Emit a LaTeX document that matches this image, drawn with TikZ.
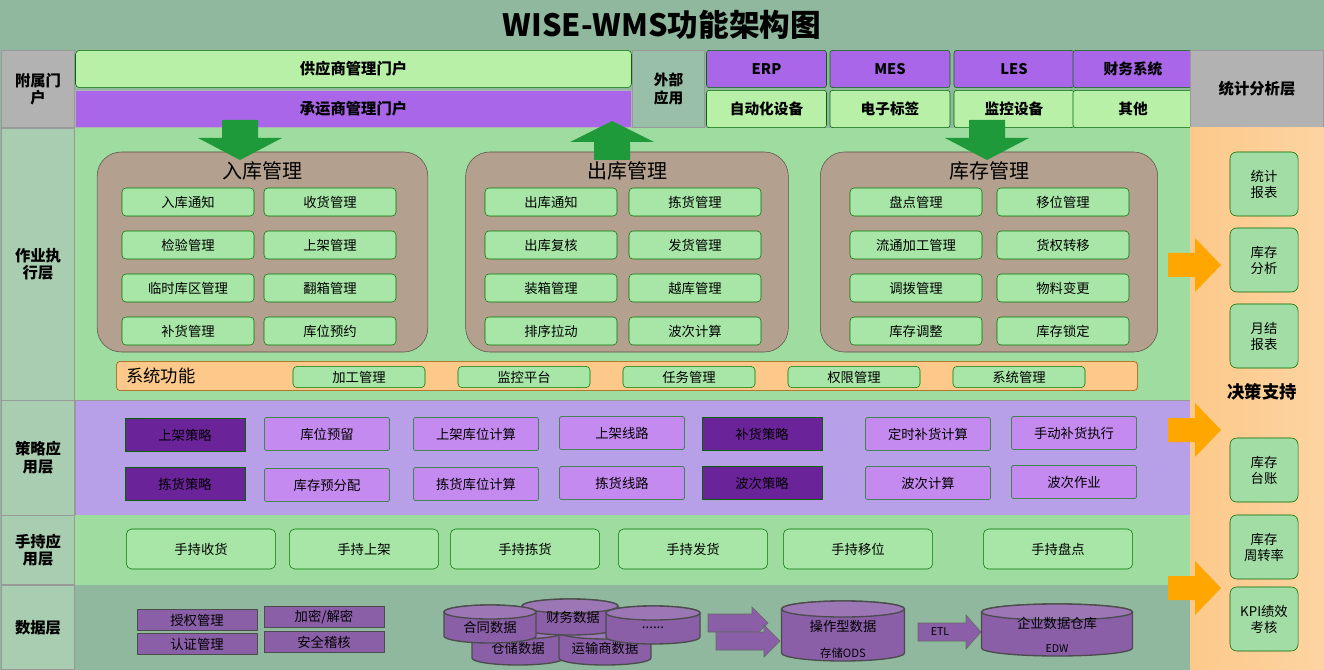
\documentclass[tikz,border=0pt]{standalone}
\usepackage{fontspec}
\setmainfont{Noto Sans CJK SC}
\definecolor{bgg}{HTML}{8FB89E}
\definecolor{lab}{HTML}{A9CDB0}
\definecolor{grayb}{HTML}{B2B2B2}
\definecolor{lgreen}{HTML}{B8F0A8}
\definecolor{purp}{HTML}{A966E8}
\definecolor{exec}{HTML}{9FDCA0}
\definecolor{brown}{HTML}{B3A08E}
\definecolor{item}{HTML}{A8E6A8}
\definecolor{orng}{HTML}{FCC98A}
\definecolor{strat}{HTML}{B8A0E8}
\definecolor{dpur}{HTML}{6A2398}
\definecolor{lpur}{HTML}{C48AF0}
\definecolor{dgreen}{HTML}{1F9A3A}
\definecolor{datap}{HTML}{8A5FA8}
\newcommand\dbcyl[5]{% cx cy w h ry
 \filldraw[fill=datap, draw=black!70, line width=1pt] ({#1-#3/2},{#2-#4/2+#5}) -- ({#1-#3/2},{#2+#4/2-#5}) arc[start angle=180,end angle=0,x radius={#3/2},y radius=#5] -- ({#1+#3/2},{#2-#4/2+#5}) arc[start angle=0,end angle=-180,x radius={#3/2},y radius=#5] -- cycle;
 \filldraw[fill=datap!85!white, draw=black!70, line width=1pt] (#1,{#2-#4/2+#5}) ellipse[x radius={#3/2},y radius=#5];}
\tikzset{
 every node/.style={font=\fontsize{10}{12}\selectfont, align=center, inner sep=0pt},
 layerlab/.style={draw=black!40, fill=lab, font=\fontsize{11.5}{13}\selectfont\bfseries},
 itm/.style={draw=green!45!black, fill=item, rounded corners=3pt, minimum width=99pt, minimum height=21pt},
 sitm/.style={draw=green!45!black, fill=item, rounded corners=3pt, minimum width=99pt, minimum height=16pt},
 mod/.style={draw=brown!50!black, fill=brown, rounded corners=18pt},
 dstrat/.style={draw=green!40!black, fill=dpur, minimum width=90pt, minimum height=25pt},
 lstrat/.style={draw=green!50!black, fill=lpur, rounded corners=2pt, minimum width=94pt, minimum height=25pt},
 hand/.style={draw=green!45!black, fill=item, rounded corners=4pt, minimum width=112pt, minimum height=30pt},
 rbox/.style={draw=green!40!black, fill=item!80!bgg, rounded corners=5pt, minimum width=51pt, minimum height=48pt},
 sec/.style={draw=black!70, fill=datap, minimum width=90pt, minimum height=16pt},
 garrow/.style={fill=dgreen},
 oarrow/.style={fill=orange!70!yellow},
 parrow/.style={fill=datap, draw=black!60}
}
\begin{document}
\begin{tikzpicture}[x=0.75pt,y=-0.75pt]
\useasboundingbox (0,0) rectangle (1324,670);
\fill[bgg] (0,0) rectangle (1324,670);
\node[font=\fontsize{23}{26}\selectfont\bfseries] (title) at (662,25) {WISE-WMS功能架构图};
% left labels
\node[layerlab, fill=grayb, minimum width=55pt, minimum height=58pt] (l1) at (38,89) {附属门\\户};
\node[layerlab, minimum width=55pt, minimum height=204pt] (l2) at (38,264) {作业执\\行层};
\node[layerlab, minimum width=55pt, minimum height=86pt] (l3) at (38,457.5) {策略应\\用层};
\node[layerlab, minimum width=55pt, minimum height=52pt] (l4) at (38,550) {手持应\\用层};
\node[layerlab, minimum width=55pt, minimum height=63pt] (l5) at (38,627.5) {数据层};
% portals
\node[draw=green!40!black, fill=lgreen, rounded corners=3pt, minimum width=417pt, minimum height=28pt, font=\fontsize{11.5}{13}\selectfont\bfseries] (p1) at (353.5,69) {供应商管理门户};
\node[draw=black!30, fill=purp, minimum width=417pt, minimum height=28pt, font=\fontsize{11.5}{13}\selectfont\bfseries] (p2) at (353.5,109) {承运商管理门户};
\node[layerlab, fill=bgg!90!white, minimum width=54pt, minimum height=58pt, font=\fontsize{11}{13}\selectfont\bfseries] (ext) at (668.5,89) {外部\\应用};
\foreach \n/\x/\t in {e1/766.5/ERP,e2/890/MES,e3/1014/LES,e4/1133/财务系统}
  \node[draw=green!40!black, fill=purp, rounded corners=2pt, minimum width=90pt, minimum height=28pt, font=\fontsize{11}{13}\selectfont\bfseries] (\n) at (\x,69) {\t};
\foreach \n/\x/\t in {f1/766.5/自动化设备,f2/890/电子标签,f3/1014/监控设备,f4/1133/其他}
  \node[draw=green!40!black, fill=lgreen, rounded corners=2pt, minimum width=90pt, minimum height=28pt, font=\fontsize{11}{13}\selectfont\bfseries] (\n) at (\x,109) {\t};
\node[layerlab, fill=grayb, minimum width=100pt, minimum height=58pt] (stat) at (1257,89) {统计分析层};
% layers
\fill[exec] (75,128) rectangle (1190,400);
\fill[strat] (75,400) rectangle (1190,515);
\draw[black!40] (75,400) rectangle (1190,515);
\fill[exec] (75,515) rectangle (1190,585);
\shade[left color=orng, right color=orng!80!white] (1190,128) rectangle (1324,670);
% modules
\node[mod, minimum width=248pt, minimum height=150pt] (m1) at (262.5,252) {};
\node[mod, minimum width=242pt, minimum height=150pt] (m2) at (627,252) {};
\node[mod, minimum width=253pt, minimum height=150pt] (m3) at (989,252) {};
\node[font=\fontsize{15}{17}\selectfont] (t1) at (262,171) {入库管理};
\node[font=\fontsize{15}{17}\selectfont] (t2) at (627,171) {出库管理};
\node[font=\fontsize{15}{17}\selectfont] (t3) at (989,171) {库存管理};
\foreach \n/\x/\y/\t in {a1/188/202/入库通知,a2/330/202/收货管理,a3/188/245/检验管理,a4/330/245/上架管理,a5/188/288/临时库区管理,a6/330/288/翻箱管理,a7/188/331/补货管理,a8/330/331/库位预约,
 b1/551/202/出库通知,b2/695/202/拣货管理,b3/551/245/出库复核,b4/695/245/发货管理,b5/551/288/装箱管理,b6/695/288/越库管理,b7/551/331/排序拉动,b8/695/331/波次计算,
 c1/916/202/盘点管理,c2/1063/202/移位管理,c3/916/245/流通加工管理,c4/1063/245/货权转移,c5/916/288/调拨管理,c6/1063/288/物料变更,c7/916/331/库存调整,c8/1063/331/库存锁定}
  \node[itm] (\n) at (\x,\y) {\t};
% green arrows
\fill[garrow] (222,120) -- (258,120) -- (258,138) -- (282,138) -- (240,160) -- (198,138) -- (222,138) -- cycle;
\fill[garrow] (594,160) -- (630,160) -- (630,142) -- (654,142) -- (612,121) -- (570,142) -- (594,142) -- cycle;
\fill[garrow] (969,120) -- (1005,120) -- (1005,138) -- (1029,138) -- (987,160) -- (945,138) -- (969,138) -- cycle;
% system functions
\node[draw=orange!60!black, fill=orng, rounded corners=3pt, minimum width=766pt, minimum height=22pt] (sys) at (627,376) {};
\node[font=\fontsize{13}{15}\selectfont, anchor=west] (syst) at (126,376) {系统功能};
\foreach \n/\x/\t in {s1/359/加工管理,s2/524/监控平台,s3/689/任务管理,s4/854/权限管理,s5/1019/系统管理}
  \node[sitm] (\n) at (\x,377) {\t};
% strategy
\foreach \n/\x/\y/\t in {g1/185/435/上架策略,g2/762/434/补货策略,g3/185/484/拣货策略,g4/762/483/波次策略}
  \node[dstrat] (\n) at (\x,\y) {\t};
\foreach \n/\x/\y/\t in {h1/327/434/库位预留,h2/476/434/上架库位计算,h3/622/433/上架线路,h4/928/434/定时补货计算,h5/1074/433/手动补货执行,
 h6/327/485/库存预分配,h7/476/484/拣货库位计算,h8/622/483/拣货线路,h9/928/483/波次计算,h10/1074/482/波次作业}
  \node[lstrat] (\n) at (\x,\y) {\t};
% handheld
\foreach \n/\x/\t in {k1/201/手持收货,k2/364/手持上架,k3/525/手持拣货,k4/693/手持发货,k5/858/手持移位,k6/1058/手持盘点}
  \node[hand] (\n) at (\x,549) {\t};
% right column
\foreach \n/\y/\t in {r1/184/统计\\报表,r2/260/库存\\分析,r3/336/月结\\报表,r4/470/库存\\台账,r5/547/库存\\周转率,r6/619/KPI绩效\\考核}
  \node[rbox] (\n) at (1264,\y) {\t};
\node[font=\fontsize{13}{15}\selectfont\bfseries] (dec) at (1262,392) {决策支持};
\foreach \y in {265,430,588}
  \fill[oarrow] (1168,\y-12) -- (1195,\y-12) -- (1195,\y-27) -- (1221,\y) -- (1195,\y+27) -- (1195,\y+12) -- (1168,\y+12) -- cycle;
% data layer
\node[sec] (d1) at (197,620) {授权管理};
\node[sec] (d2) at (324,617) {加密/解密};
\node[sec] (d3) at (197,644) {认证管理};
\node[sec] (d4) at (324,642) {安全稽核};
\dbcyl{518}{645}{92}{40}{7}
\node (w1) at (518,648) {仓储数据};
\dbcyl{605}{645}{92}{40}{7}
\node (w2) at (605,648) {运输商数据};
\dbcyl{570}{617}{96}{36}{7}
\node (w3) at (573,617) {财务数据};
\dbcyl{490}{624}{92}{38}{7}
\node (w4) at (490,627) {合同数据};
\dbcyl{653}{625}{94}{38}{7}
\node (w5) at (653,628) {......};
\fill[parrow] (708,614) -- (752,614) -- (752,607) -- (768,623) -- (752,639) -- (752,632) -- (708,632) -- cycle;
\fill[parrow] (716,632) -- (764,632) -- (764,625) -- (780,641) -- (764,657) -- (764,650) -- (716,650) -- cycle;
\dbcyl{843}{631}{123}{60}{8}
\node (odst) at (843,626) {操作型数据};
\node[font=\fontsize{8.5}{10}\selectfont] (odsb) at (843,653) {存储ODS};
\fill[parrow] (918,623) -- (966,623) -- (966,615) -- (981,632) -- (966,649) -- (966,641) -- (918,641) -- cycle;
\node[font=\fontsize{8}{10}\selectfont] (etl) at (940,632) {ETL};
\dbcyl{1057}{630}{151}{52}{8}
\node (edwt) at (1057,623) {企业数据仓库};
\node[font=\fontsize{8}{10}\selectfont] (edwb) at (1057,649) {EDW};
\end{tikzpicture}
\end{document}
